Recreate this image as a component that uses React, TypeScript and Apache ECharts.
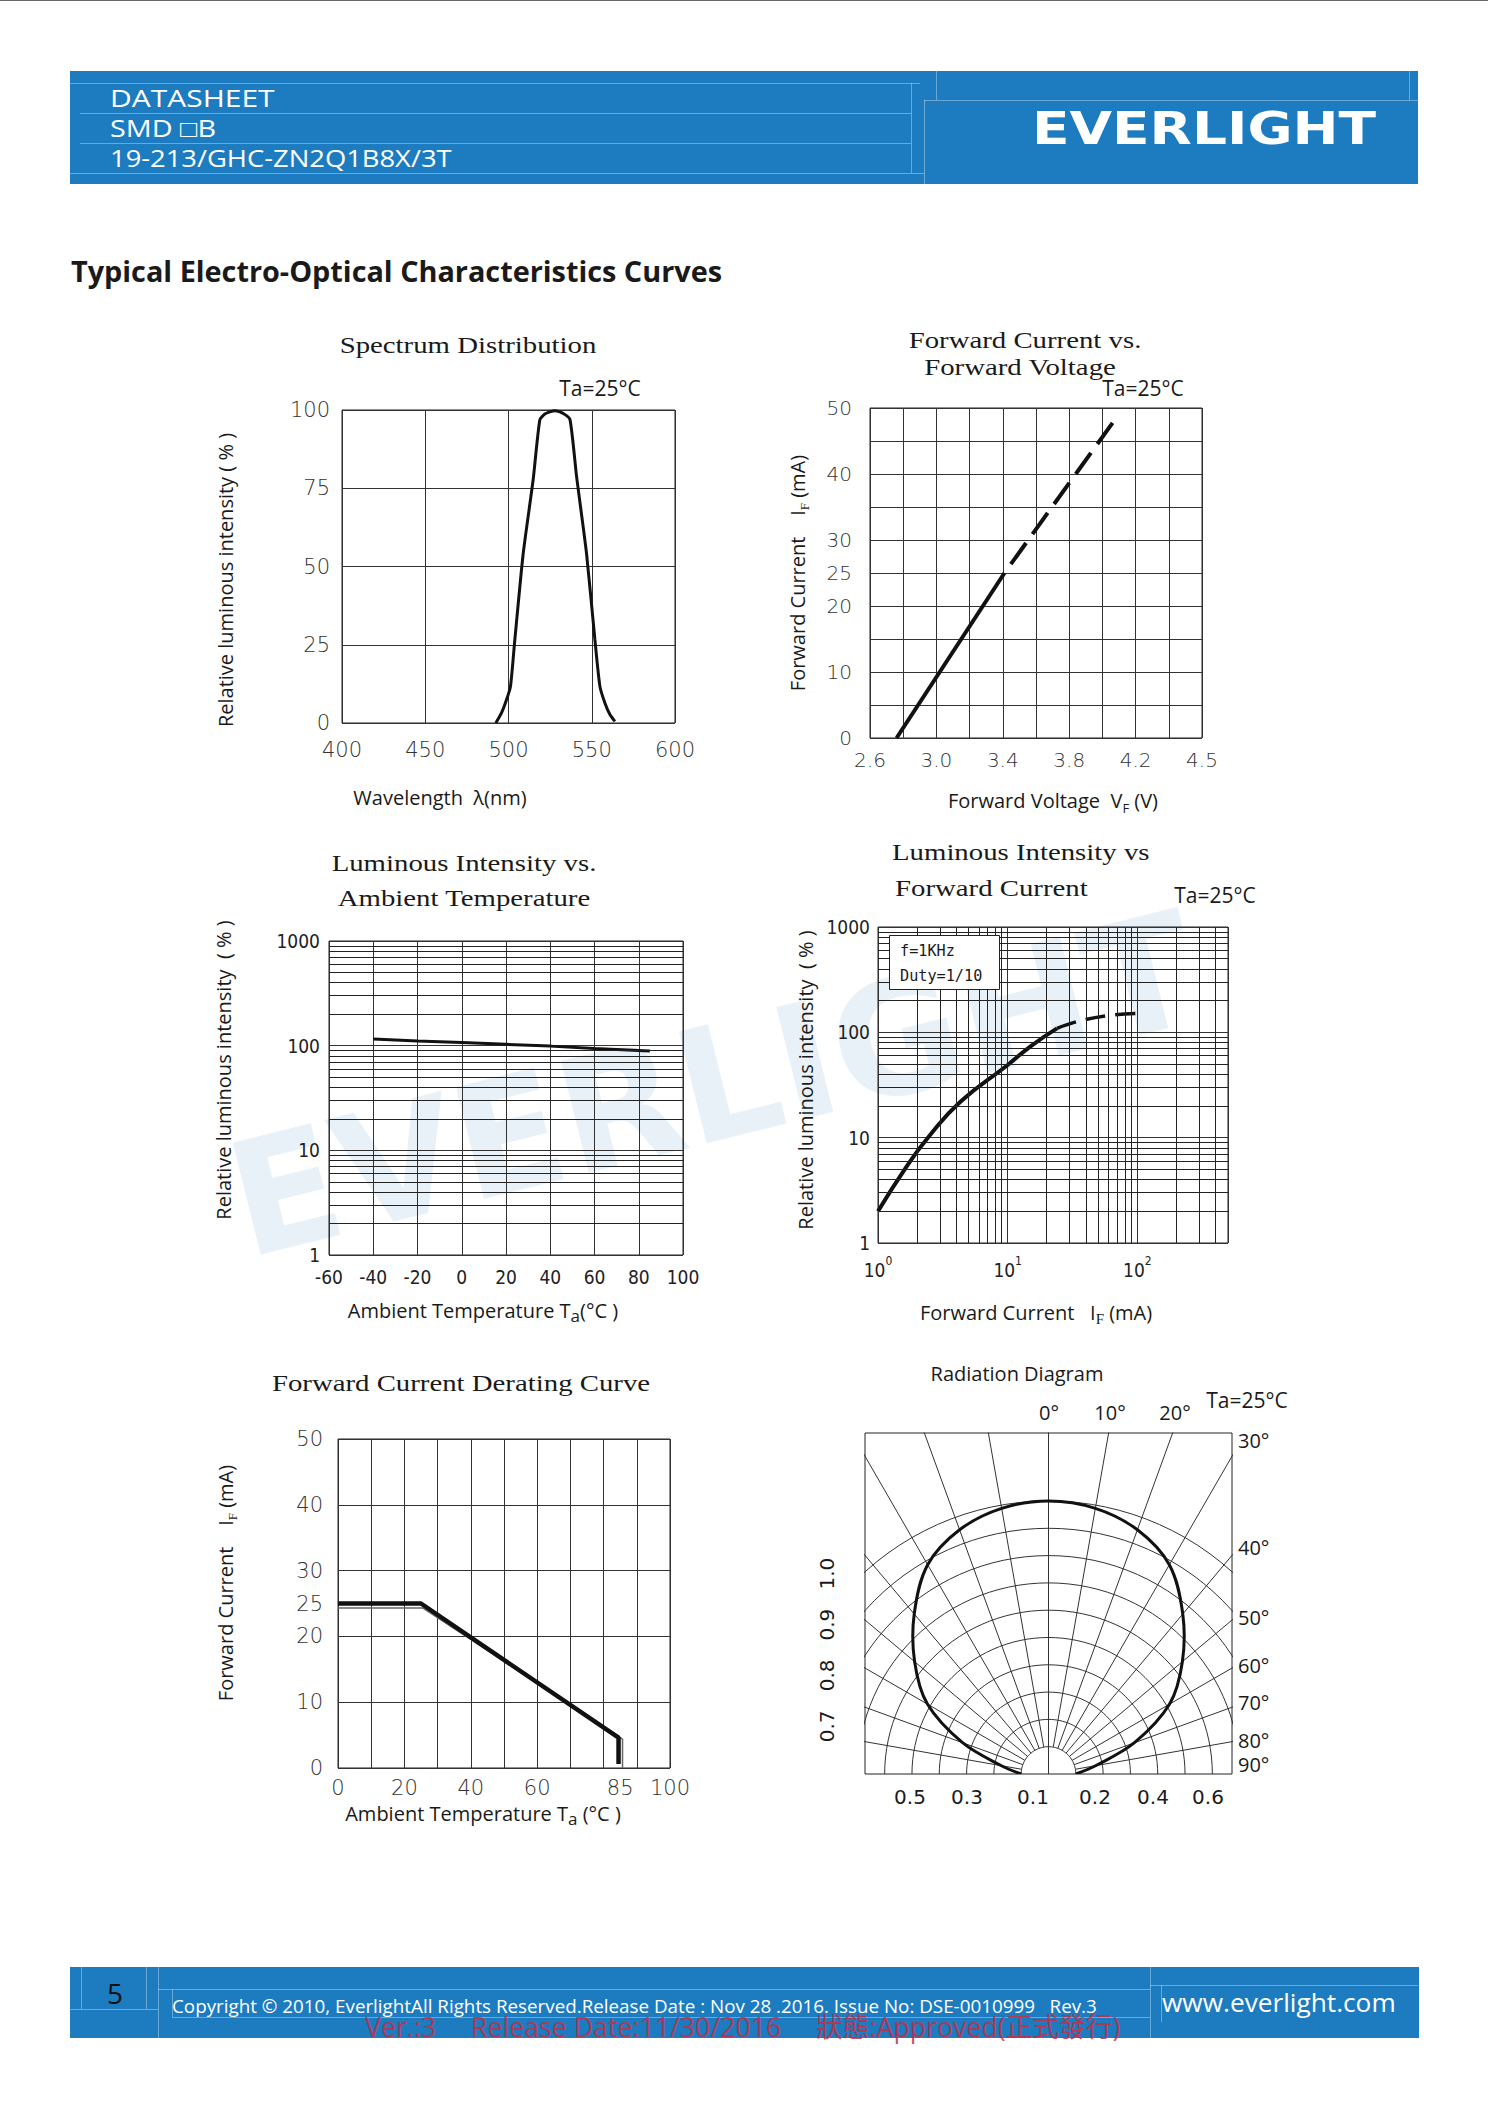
import React, { useEffect, useRef } from 'react';
import * as echarts from 'echarts';

// ---------------- DATA ----------------
// Spectrum Distribution
const specWavelength = [492.4, 495.8, 498.8, 501.2, 503.8, 508.8, 514.8, 518.8, 521.8, 527.9, 532.9, 536.9, 540.9, 546.9, 551.9, 554.9, 557.9, 560.9, 563.9];
const specIntensity = [0, 3.2, 7.4, 11.7, 26.6, 54, 77.7, 96.8, 98.7, 99.8, 98.9, 97, 78.7, 54, 26.6, 11.7, 6.4, 2.7, 0.5];

// Forward current vs forward voltage
const vfSolidVoltage = [2.76, 3.41];
const vfSolidCurrent = [0, 25];
const vfDashVoltage = [3.41, 4.08];
const vfDashCurrent = [25, 48.4];
const vfTickValues = [2.6, 3.0, 3.4, 3.8, 4.2, 4.6];
const vfTickLabels = ['2.6', '3.0', '3.4', '3.8', '4.2', '4.5'];
const ifTickValues = [0, 10, 20, 25, 30, 40, 50];

// Luminous intensity vs ambient temperature
const taTemperature = [-40, -20, 0, 20, 40, 60, 85];
const taIntensity = [116, 111, 107, 103, 99, 94, 89];

// Luminous intensity vs forward current
const liSolidCurrent = [1, 1.64, 2.46, 4.34, 10, 15.1, 24];
const liSolidIntensity = [2.0, 5.2, 10.2, 22, 49, 74, 109];
const liDashCurrent = [24, 34, 59, 100];
const liDashIntensity = [109, 126, 144, 151];

// Forward current derating curve
const derTemperature = [0, 25, 84.5, 84.5];
const derCurrent = [25, 25, 4.6, 0.6];
const derShadowTemperature = [0, 25.6, 85.7, 85.7];
const derShadowCurrent = [24.3, 24.3, 4.4, 0];
const derXTickLabels = [0, 20, 40, 60, 85, 100];
const derYTickLabels = [0, 10, 20, 25, 30, 40, 50];

// Radiation diagram (angle in degrees, relative intensity)
const radAngle = [0, 10, 20, 30, 40, 50, 60, 70, 80, 90];
const radIntensity = [1.0, 0.988, 0.952, 0.885, 0.765, 0.64, 0.512, 0.335, 0.175, 0.1];
const radArcRadii = [0.1, 0.2, 0.3, 0.4, 0.5, 0.6, 0.7, 0.8, 0.9, 1.0];
const radSpokeAngles = [-80, -70, -60, -50, -40, -30, -20, -10, 0, 10, 20, 30, 40, 50, 60, 70, 80];

// ---------------- STYLE ----------------
const SANS = "'Open Sans','Noto Sans',sans-serif";
const SERIF = "'Liberation Serif','DejaVu Serif',serif";
const NARROW = "'Liberation Sans Narrow','DejaVu Sans Condensed',sans-serif";
const THIN = "'DejaVu Sans',sans-serif";
const INK = '#1a1a1a';
const GRIDC = '#333';
const BLUE = '#1d7bbf';
const LINEB = 'rgba(255,255,255,0.35)';

const zip = (a: number[], b: number[]) => a.map((v, i) => [v, b[i]]);
const pickLabel = (vals: number[], labels: string[]) => (v: number) => {
  const i = vals.findIndex((t) => Math.abs(t - v) < 1e-6);
  return i >= 0 ? labels[i] : '';
};
const logMinor = (decades: number, maxVal: number) => {
  const out: number[] = [];
  for (let e = 0; e < decades; e++) for (let m = 2; m <= 9; m++) { const v = m * Math.pow(10, e); if (v < maxVal) out.push(v); }
  return out;
};

function T(x: number, y: number, text: string, o: any = {}) {
  return {
    type: 'text', x, y, rotation: o.rot ?? 0, scaleX: o.sx ?? 1, scaleY: 1, z: o.z ?? 50, silent: true,
    style: {
      text, x: 0, y: 0, fill: o.fill ?? INK, fontSize: o.size ?? 20, fontFamily: o.family ?? SANS,
      fontWeight: o.weight ?? 'normal', align: o.align ?? 'center', textAlign: o.align ?? 'center',
      verticalAlign: 'middle', textVerticalAlign: 'middle', rich: o.rich,
    },
  };
}
function L(x1: number, y1: number, x2: number, y2: number, stroke = LINEB, w = 1, z = 5) {
  return { type: 'line', z, silent: true, shape: { x1, y1, x2, y2 }, style: { stroke, lineWidth: w } };
}
const subRich = (size: number, subSize: number, fam: string, subFam?: string) => ({
  n: { fontSize: size, fontFamily: fam, lineHeight: size + 8 },
  s: { fontSize: subSize, fontFamily: subFam ?? fam, lineHeight: subSize, verticalAlign: 'bottom' },
});

const baseAxis = {
  axisLine: { show: false }, axisTick: { show: false },
  splitLine: { show: true, lineStyle: { color: GRIDC, width: 1 } },
};
const thinLabel = { fontFamily: THIN, fontWeight: 200, color: '#333' };
const narrowLabel = { fontFamily: NARROW, color: '#222', fontSize: 19 };

function buildOption() {
  const minorY = logMinor(3, 1000).map((v) => ({ yAxis: v }));
  const minorX = logMinor(3, 500).map((v) => ({ xAxis: v }));
  const mk = (data: any[]) => ({
    silent: true, symbol: ['none', 'none'], label: { show: false }, animation: false,
    emphasis: { disabled: true }, lineStyle: { color: '#222', width: 1, type: 'solid' }, data,
  });

  const rad = (r: number, a: number) => [r * Math.sin((a * Math.PI) / 180), r * Math.cos((a * Math.PI) / 180)];
  const radSeries: any[] = [];
  radArcRadii.forEach((r) => {
    const pts: number[][] = [];
    for (let a = -90; a <= 90; a += 3) pts.push(rad(r, a));
    radSeries.push({ type: 'line', xAxisIndex: 6, yAxisIndex: 6, data: pts, symbol: 'none', silent: true, clip: true, lineStyle: { color: GRIDC, width: 1 } });
  });
  radSpokeAngles.forEach((a) => {
    radSeries.push({ type: 'line', xAxisIndex: 6, yAxisIndex: 6, data: [rad(a === 0 ? 0 : 0.1, a), rad(1.6, a)], symbol: 'none', silent: true, clip: true, lineStyle: { color: GRIDC, width: 1 } });
  });
  const curvePts: number[][] = [];
  for (let i = radAngle.length - 1; i > 0; i--) curvePts.push(rad(radIntensity[i], -radAngle[i]));
  for (let i = 0; i < radAngle.length; i++) curvePts.push(rad(radIntensity[i], radAngle[i]));
  radSeries.push({
    type: 'custom', coordinateSystem: 'cartesian2d', xAxisIndex: 6, yAxisIndex: 6, data: curvePts, silent: true, clip: true, z: 5,
    renderItem: (params: any, api: any) => {
      if (params.dataIndex !== 0) return null;
      const pts = curvePts.map((p) => api.coord(p));
      return { type: 'polyline', shape: { points: pts, smooth: 0.35 }, style: { stroke: '#111', lineWidth: 3, fill: null } };
    },
  });

  const gridBase = { show: true, borderColor: '#222', borderWidth: 1, backgroundColor: 'transparent' };

  const graphic: any[] = [
    // page top rule
    L(0, 0.5, 1488, 0.5, '#666', 1),
    // header band
    { type: 'rect', z: 1, silent: true, shape: { x: 70, y: 71, width: 1348, height: 113 }, style: { fill: BLUE } },
    L(70, 83.5, 920, 83.5), L(80, 113.5, 911, 113.5), L(80, 143.5, 911, 143.5), L(70, 173.5, 924, 173.5),
    L(911.5, 83, 911.5, 173), L(924.5, 100, 924.5, 184), L(924, 100.5, 1418, 100.5),
    L(936.5, 71, 936.5, 100), L(1409.5, 71, 1409.5, 100),
    T(110, 98, 'DATASHEET', { align: 'left', fill: '#fff', size: 24, sx: 1.25, z: 10 }),
    T(110, 128, 'SMD □B', { align: 'left', fill: '#fff', size: 24, sx: 1.2, z: 10 }),
    T(110, 158, '19-213/GHC-ZN2Q1B8X/3T', { align: 'left', fill: '#fff', size: 24, sx: 1.14, z: 10 }),
    T(1204, 129, 'EVERLIGHT', { fill: '#fff', size: 44, weight: 'bold', family: "'DejaVu Sans',sans-serif", sx: 1.25, z: 10 }),
    // section title
    T(71, 271, 'Typical Electro-Optical Characteristics Curves', { align: 'left', size: 28, weight: 'bold', sx: 1.03 }),
    // watermark
    T(713, 1085, 'EVERLIGHT', { size: 158, weight: 'bold', family: "'DejaVu Sans',sans-serif", fill: '#e8f0f8', rot: (14 * Math.PI) / 180, z: -10 }),

    // Chart 1
    T(468, 345, 'Spectrum Distribution', { family: SERIF, size: 24, sx: 1.2 }),
    T(600, 388, 'Ta=25°C', { size: 21 }),
    T(440, 797, 'Wavelength  λ(nm)', { size: 20 }),
    T(225, 580, 'Relative luminous intensity ( % )', { size: 20, rot: Math.PI / 2 }),

    // Chart 2
    T(1025, 340, 'Forward Current vs.', { family: SERIF, size: 24, sx: 1.2 }),
    T(1020, 367, 'Forward Voltage', { family: SERIF, size: 24, sx: 1.2 }),
    T(1143, 388, 'Ta=25°C', { size: 21 }),
    T(1053, 800, '{n|Forward Voltage  V}{s|F}{n| (V)}', { rich: subRich(20, 13, SANS) }),
    T(797, 573, '{n|Forward Current    I}{s|F}{n| (mA)}', { rot: Math.PI / 2, rich: subRich(20, 13, SANS, SERIF) }),

    // Chart 3
    T(464, 863, 'Luminous Intensity vs.', { family: SERIF, size: 24, sx: 1.2 }),
    T(464, 898, 'Ambient Temperature', { family: SERIF, size: 24, sx: 1.2 }),
    T(483, 1310, '{n|Ambient Temperature T}{s|a}{n|(°C )}', { rich: subRich(20, 17, SANS) }),
    T(223, 1070, 'Relative luminous intensity  ( % )', { size: 20, rot: Math.PI / 2 }),

    // Chart 4
    T(892, 852, 'Luminous Intensity vs', { family: SERIF, size: 24, sx: 1.2, align: 'left' }),
    T(895, 888, 'Forward Current', { family: SERIF, size: 24, sx: 1.2, align: 'left' }),
    T(1215, 895, 'Ta=25°C', { size: 21 }),
    T(1036, 1312, '{n|Forward Current   I}{s|F}{n| (mA)}', { rich: subRich(20, 15, SANS, SERIF) }),
    T(805, 1080, 'Relative luminous intensity  ( % )', { size: 20, rot: Math.PI / 2 }),
    { type: 'rect', z: 100, silent: true, shape: { x: 889.5, y: 935.5, width: 110, height: 54 }, style: { fill: '#fff', stroke: '#222', lineWidth: 1 } },
    T(900, 951, 'f=1KHz', { align: 'left', size: 16, family: "'DejaVu Sans Mono',monospace", z: 101, sx: 0.95 }),
    T(900, 976, 'Duty=1/10', { align: 'left', size: 16, family: "'DejaVu Sans Mono',monospace", z: 101, sx: 0.95 }),

    // Chart 5
    T(461, 1383, 'Forward Current Derating Curve', { family: SERIF, size: 24, sx: 1.2 }),
    T(483, 1813, '{n|Ambient Temperature T}{s|a}{n| (°C )}', { rich: subRich(20, 17, SANS) }),
    T(225, 1583, '{n|Forward Current    I}{s|F}{n| (mA)}', { rot: Math.PI / 2, rich: subRich(20, 13, SANS, SERIF) }),

    // Chart 6
    T(1017, 1373, 'Radiation Diagram', { size: 20 }),
    T(1247, 1400, 'Ta=25°C', { size: 21 }),
    T(1049, 1412, '0°', { size: 20 }),
    T(1110, 1412, '10°', { size: 20 }),
    T(1175, 1412, '20°', { size: 20 }),
    T(1238, 1440, '30°', { size: 20, align: 'left' }),
    T(1238, 1547, '40°', { size: 20, align: 'left' }),
    T(1238, 1617, '50°', { size: 20, align: 'left' }),
    T(1238, 1665, '60°', { size: 20, align: 'left' }),
    T(1238, 1702, '70°', { size: 20, align: 'left' }),
    T(1238, 1740, '80°', { size: 20, align: 'left' }),
    T(1238, 1764, '90°', { size: 20, align: 'left' }),
    T(910, 1797, '0.5', { size: 20, family: THIN }),
    T(967, 1797, '0.3', { size: 20, family: THIN }),
    T(1033, 1797, '0.1', { size: 20, family: THIN }),
    T(1095, 1797, '0.2', { size: 20, family: THIN }),
    T(1153, 1797, '0.4', { size: 20, family: THIN }),
    T(1208, 1797, '0.6', { size: 20, family: THIN }),
    T(827, 1650, '0.7   0.8   0.9   1.0', { size: 20, family: THIN, rot: Math.PI / 2 }),

    // footer
    { type: 'rect', z: 1, silent: true, shape: { x: 70, y: 1967, width: 1349, height: 71 }, style: { fill: BLUE } },
    L(81.5, 1967, 81.5, 2009), L(146.5, 1967, 146.5, 2009), L(70, 2009.5, 158, 2009.5), L(158.5, 1967, 158.5, 2038),
    L(158, 1989.5, 1150, 1989.5), L(172, 2017.5, 1150, 2017.5), L(172.5, 1989, 172.5, 2017),
    L(1150.5, 1967, 1150.5, 2038), L(1150, 1985.5, 1418, 1985.5), L(1161.5, 1985, 1161.5, 2022),
    T(115, 1993, '5', { size: 28, fill: '#111', z: 10 }),
    T(172, 2006, 'Copyright © 2010, EverlightAll Rights Reserved.Release Date : Nov 28 .2016. Issue No: DSE-0010999   Rev.3', { align: 'left', size: 19, fill: '#fff', sx: 0.99, z: 10 }),
    T(1162, 2003, 'www.everlight.com', { align: 'left', size: 25, fill: '#fff', sx: 1.05, z: 10 }),
    T(365, 2026, 'Ver.:3     Release Date:11/30/2016     狀態:Approved(正式發行)', { align: 'left', size: 27, fill: 'rgba(200,45,70,0.85)', family: "'Open Sans','Noto Sans CJK TC',sans-serif", sx: 0.99, z: 11 }),
  ];

  return {
    animation: false,
    backgroundColor: '#fff',
    grid: [
      { ...gridBase, left: 342, top: 410, width: 333, height: 313 },
      { ...gridBase, left: 870, top: 408, width: 332, height: 330 },
      { ...gridBase, left: 329, top: 941, width: 354, height: 314 },
      { ...gridBase, left: 878, top: 927, width: 350, height: 316 },
      { ...gridBase, left: 338, top: 1439, width: 332, height: 329 },
      { ...gridBase, left: 865, top: 1433, width: 367, height: 341 },
    ],
    xAxis: [
      { ...baseAxis, gridIndex: 0, type: 'value', min: 400, max: 600, interval: 50, axisLabel: { ...thinLabel, fontSize: 21, margin: 16 } },
      { ...baseAxis, gridIndex: 1, type: 'value', min: 2.6, max: 4.6, interval: 0.2, axisLabel: { ...thinLabel, fontSize: 20, margin: 12, formatter: pickLabel(vfTickValues, vfTickLabels) } },
      { ...baseAxis, gridIndex: 2, type: 'value', min: -60, max: 100, interval: 20, axisLabel: { ...narrowLabel, margin: 12 } },
      {
        ...baseAxis, gridIndex: 3, type: 'log', logBase: 10, min: 1, max: 500,
        axisLabel: {
          margin: 12,
          formatter: (v: number) => { const e = Math.round(Math.log10(v)); return Math.abs(v - Math.pow(10, e)) < 1e-6 * v ? `{b|10}{s|${e}}` : ''; },
          rich: { b: { fontFamily: NARROW, fontSize: 19, color: '#222', lineHeight: 24, verticalAlign: 'bottom' }, s: { fontFamily: NARROW, fontSize: 12, color: '#222', lineHeight: 12, verticalAlign: 'top' } },
        },
      },
      { ...baseAxis, gridIndex: 4, type: 'value', min: 0, max: 100, interval: 10, position: 'bottom', axisLabel: { show: false } },
      { ...baseAxis, gridIndex: 4, type: 'value', min: 0, max: 100, interval: 5, position: 'bottom', splitLine: { show: false }, axisLabel: { ...thinLabel, fontSize: 21, margin: 9, formatter: pickLabel(derXTickLabels, derXTickLabels.map(String)) } },
      { gridIndex: 5, type: 'value', min: -0.672, max: 0.672, show: false },
    ],
    yAxis: [
      { ...baseAxis, gridIndex: 0, type: 'value', min: 0, max: 100, interval: 25, axisLabel: { ...thinLabel, fontSize: 21, margin: 12 } },
      { ...baseAxis, gridIndex: 1, type: 'value', min: 0, max: 50, interval: 5, axisLabel: { ...thinLabel, fontSize: 20, margin: 18, formatter: pickLabel(ifTickValues, ifTickValues.map(String)) } },
      { ...baseAxis, gridIndex: 2, type: 'log', logBase: 10, min: 1, max: 1000, axisLabel: { ...narrowLabel, margin: 9, formatter: (v: number) => String(Math.round(v)) } },
      { ...baseAxis, gridIndex: 3, type: 'log', logBase: 10, min: 1, max: 1000, axisLabel: { ...narrowLabel, margin: 8, formatter: (v: number) => String(Math.round(v)) } },
      { ...baseAxis, gridIndex: 4, type: 'value', min: 0, max: 50, interval: 10, position: 'left', axisLabel: { show: false } },
      { ...baseAxis, gridIndex: 4, type: 'value', min: 0, max: 50, interval: 5, position: 'left', splitLine: { show: false }, axisLabel: { ...thinLabel, fontSize: 21, margin: 15, formatter: pickLabel(derYTickLabels, derYTickLabels.map(String)) } },
      { gridIndex: 5, type: 'value', min: 0, max: 1.249, show: false },
    ],
    series: [
      { type: 'line', xAxisIndex: 0, yAxisIndex: 0, data: zip(specWavelength, specIntensity), symbol: 'none', smooth: 0.2, lineStyle: { color: '#111', width: 3 } },
      { type: 'line', xAxisIndex: 1, yAxisIndex: 1, data: zip(vfSolidVoltage, vfSolidCurrent), symbol: 'none', lineStyle: { color: '#111', width: 4 } },
      { type: 'line', xAxisIndex: 1, yAxisIndex: 1, data: zip(vfDashVoltage, vfDashCurrent), symbol: 'none', lineStyle: { color: '#111', width: 4, type: [26, 11], dashOffset: 26 } },
      { type: 'line', xAxisIndex: 2, yAxisIndex: 2, data: zip(taTemperature, taIntensity), symbol: 'none', lineStyle: { color: '#111', width: 3 }, markLine: mk(minorY) },
      { type: 'line', xAxisIndex: 3, yAxisIndex: 3, data: zip(liSolidCurrent, liSolidIntensity), symbol: 'none', smooth: 0.5, lineStyle: { color: '#111', width: 4 }, markLine: mk([...minorY, ...minorX]) },
      { type: 'line', xAxisIndex: 3, yAxisIndex: 3, data: zip(liDashCurrent, liDashIntensity), symbol: 'none', smooth: 0.4, lineStyle: { color: '#111', width: 3.5, type: [20, 10] } },
      { type: 'line', xAxisIndex: 4, yAxisIndex: 4, data: zip(derShadowTemperature, derShadowCurrent), symbol: 'none', lineStyle: { color: '#666', width: 1.5 } },
      { type: 'line', xAxisIndex: 4, yAxisIndex: 4, data: zip(derTemperature, derCurrent), symbol: 'none', lineStyle: { color: '#111', width: 4.5 } },
      ...radSeries,
    ],
    graphic: { elements: graphic },
  };
}

export default function App() {
  const ref = useRef<HTMLDivElement>(null);
  useEffect(() => {
    if (!ref.current) return;
    const chart = echarts.init(ref.current, null, { renderer: 'svg', width: 1488, height: 2104 });
    chart.setOption(buildOption() as any);
    return () => chart.dispose();
  }, []);
  return <div ref={ref} style={{ position: 'absolute', left: 0, top: 0, width: 1488, height: 2104, background: '#fff' }} />;
}
